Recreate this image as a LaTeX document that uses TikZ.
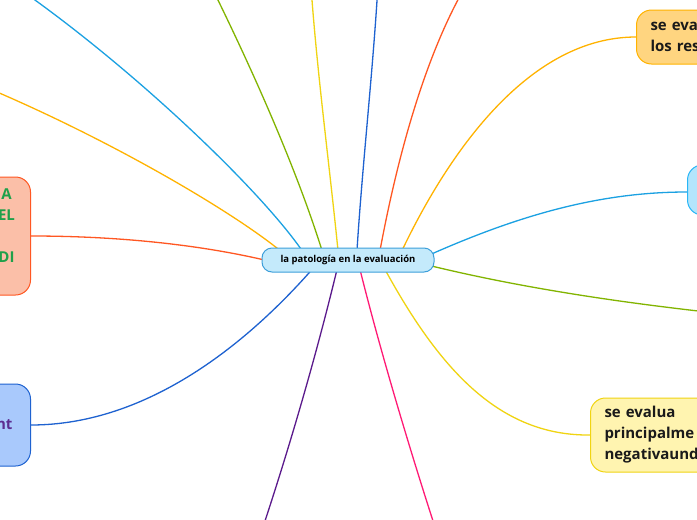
\documentclass[tikz,border=0pt]{standalone}
\usepackage{fontspec}
\setmainfont{Open Sans}
\usepackage{tikz}
\usetikzlibrary{backgrounds}

\definecolor{ctrfill}{HTML}{C4EAFB}
\definecolor{ctrline}{HTML}{3D9FDA}
\definecolor{lblue}{HTML}{1BA1E2}
\definecolor{amber}{HTML}{FFB300}
\definecolor{lgreen}{HTML}{82B400}
\definecolor{lyellow}{HTML}{F0D412}
\definecolor{dblue}{HTML}{1E62D0}
\definecolor{ored}{HTML}{FF5722}
\definecolor{pink}{HTML}{FF1A75}
\definecolor{dpurple}{HTML}{5B1A8C}
\definecolor{resfill}{HTML}{FFD580}
\definecolor{azufill}{HTML}{B3E5FC}
\definecolor{azuline}{HTML}{29B6F6}
\definecolor{negfill}{HTML}{FFF4B0}
\definecolor{nivfill}{HTML}{FBBFA8}
\definecolor{nivtext}{HTML}{1FA04A}
\definecolor{ntfill}{HTML}{A9C9FC}
\definecolor{nttext}{HTML}{5C2D91}
\definecolor{textdark}{HTML}{1A1A1A}

\begin{document}
\begin{tikzpicture}[x=1pt,y=-1pt]
  \tikzstyle{topic}=[rounded corners=15pt,line width=1pt,
                     font=\fontsize{15}{21}\selectfont\bfseries]
  \tikzstyle{branch}=[line width=1.3pt]
  \useasboundingbox (0,0) rectangle (697,520);

  % central topic
  \node[draw=ctrline,fill=ctrfill,rounded corners=10pt,line width=1pt,
        minimum width=172pt,minimum height=24pt,
        font=\fontsize{9.5}{11}\selectfont\bfseries] (CTR) at (348,260)
        {la patología en la evaluación};

  % subtopics (cut by the page edge)
  \node[topic,draw=amber,fill=resfill,anchor=west,minimum height=54pt,
        text width=130pt,inner xsep=14pt,align=left,text=textdark] (RES)
        at (636,37) {se eva\\los res};
  \node[topic,draw=azuline,fill=azufill,anchor=west,minimum width=80pt,
        minimum height=50pt] (AZU) at (687,190) {};
  \node[topic,draw=lyellow,fill=negfill,anchor=west,minimum height=74pt,
        text width=130pt,inner xsep=14pt,align=left,text=textdark] (NEG)
        at (590,435) {se evalua\\principalme\\negativaund};
  \node[topic,draw=ored,fill=nivfill,anchor=east,minimum height=118pt,
        text width=48pt,inner xsep=0pt,align=center,text=nivtext] (NIV)
        at (31,236) {A\\EL\\~\\DI\\~};
  \node[topic,draw=dblue,fill=ntfill,anchor=east,minimum height=82pt,
        text width=60pt,inner xsep=18pt,align=right,text=nttext] (NT)
        at (31,425) {nt};

  % loose ends outside the page
  \coordinate (O1) at (-10,89);
  \coordinate (O2) at (28,-5);
  \coordinate (O3) at (216,-4);
  \coordinate (O4) at (311.7,-4);
  \coordinate (O5) at (377.3,-4);
  \coordinate (O6) at (460,-4);
  \coordinate (O7) at (707,312);
  \coordinate (O8) at (434,524);
  \coordinate (O9) at (264,524);

  \begin{scope}[on background layer]
  \fill[white] (0,0) rectangle (697,520);
  \draw[branch,amber] ([xshift=-68pt,yshift=-3pt]CTR.north)
        .. controls (230,210) and (110,140) .. (O1);
  \draw[branch,lblue] ([xshift=-46pt,yshift=-3pt]CTR.north)
        .. controls (260,190) and (140,75) .. (O2);
  \draw[branch,lgreen] ([xshift=-26pt,yshift=-3pt]CTR.north)
        .. controls (300,180) and (262,90) .. (O3);
  \draw[branch,lyellow] ([xshift=-10pt,yshift=-3pt]CTR.north)
        .. controls (330,170) and (318,80) .. (O4);
  \draw[branch,dblue] ([xshift=9pt,yshift=-3pt]CTR.north)
        .. controls (362,170) and (372,80) .. (O5);
  \draw[branch,ored] ([xshift=32pt,yshift=-3pt]CTR.north)
        .. controls (395,170) and (420,70) .. (O6);
  \draw[branch,amber] ([xshift=54pt,yshift=-3pt]CTR.north)
        .. controls (450,150) and (530,37) .. (RES.west);
  \draw[branch,lblue] ([xshift=-3pt,yshift=6pt]CTR.east)
        .. controls (520,215) and (600,192) .. ([yshift=-2pt]AZU.west);
  \draw[branch,lgreen] ([xshift=-3pt,yshift=-6pt]CTR.east)
        .. controls (510,285) and (600,300) .. (O7);
  \draw[branch,lyellow] ([xshift=37pt,yshift=3pt]CTR.south)
        .. controls (440,370) and (500,436) .. (NEG.west);
  \draw[branch,pink] ([xshift=12pt,yshift=3pt]CTR.south)
        .. controls (380,350) and (410,450) .. (O8);
  \draw[branch,dpurple] ([xshift=-11pt,yshift=3pt]CTR.south)
        .. controls (320,340) and (295,430) .. (O9);
  \draw[branch,dblue] ([xshift=-36pt,yshift=3pt]CTR.south)
        .. controls (250,340) and (150,425) .. (NT.east);
  \draw[branch,ored] ([xshift=3pt]CTR.west)
        .. controls (200,245) and (120,236) .. (NIV.east);
  \end{scope}
\end{tikzpicture}
\end{document}
